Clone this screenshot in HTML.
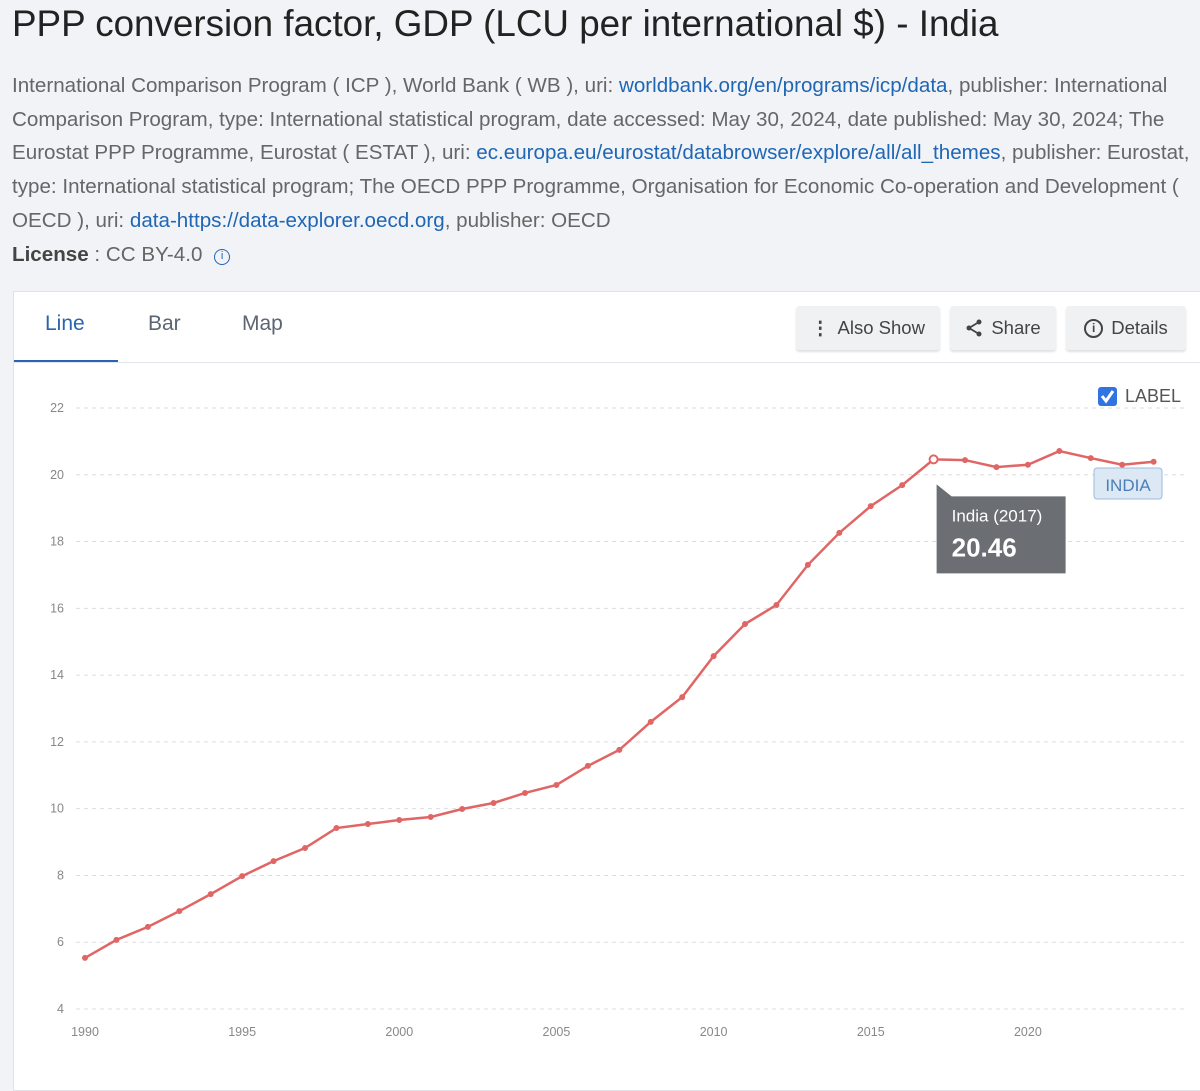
<!DOCTYPE html>
<html><head><meta charset="utf-8"><style>
*{box-sizing:border-box;margin:0;padding:0}
body{width:1200px;height:1079px;background:#f1f3f6;font-family:"Liberation Sans",sans-serif;position:relative;overflow:hidden;color:#555}
.abs{position:absolute}
h1{position:absolute;left:12px;top:3px;font-size:36.8px;font-weight:normal;color:#222;white-space:nowrap}
.meta{position:absolute;left:12px;top:69px;width:1188px;font-size:20.6px;line-height:33.7px;color:#666}
.meta a{color:#1f66b5;text-decoration:none}
.card{position:absolute;left:13px;top:291px;width:1200px;height:800px;background:#fff;border:1px solid #dfe2e6}
.tab{position:absolute;top:20px;font-size:21px;color:#5b6573}
.btn{position:absolute;top:14px;height:44px;background:#f0f1f3;border-radius:3px;box-shadow:0 2px 2px rgba(0,0,0,.12);font-size:18.5px;color:#444;display:flex;align-items:center;justify-content:center;gap:8px}
</style></head><body>
<h1>PPP conversion factor, GDP (LCU per international $) - India</h1>
<div class="meta">International Comparison Program ( ICP ), World Bank ( WB ), uri: <a>worldbank.org/en/programs/icp/data</a>, publisher: International Comparison Program, type: International statistical program, date accessed: May 30, 2024, date published: May 30, 2024; The Eurostat PPP Programme, Eurostat ( ESTAT ), uri: <a>ec.europa.eu/eurostat/databrowser/explore/all/all_themes</a>, publisher: Eurostat, type: International statistical program; The OECD PPP Programme, Organisation for Economic Co-operation and Development ( OECD ), uri: <a>data-https://data-explorer.oecd.org</a>, publisher: OECD<br><b style="color:#444">License</b> : CC BY-4.0 <span style="display:inline-block;width:16px;height:16px;border:1.5px solid #1f66b5;border-radius:50%;color:#1f66b5;font-size:11px;line-height:13px;text-align:center;margin-left:6px;vertical-align:2px">i</span></div>
<div class="card">
 <div class="tab" style="left:31px;color:#2a64b0">Line</div>
 <div class="abs" style="left:0;top:68px;width:104px;height:3px;background:#2a64b0"></div>
 <div class="tab" style="left:134px">Bar</div>
 <div class="tab" style="left:228px">Map</div>
 <div class="abs" style="left:0;top:70px;width:1200px;height:1px;background:#e3e6ea"></div>
 <div class="btn" style="left:782px;width:144px"><span style="font-weight:bold">⋮</span>Also Show</div>
 <div class="btn" style="left:936px;width:106px"><svg width="18" height="18" viewBox="0 0 18 18"><circle cx="14" cy="3" r="2.5" fill="#444"/><circle cx="4" cy="9" r="2.5" fill="#444"/><circle cx="14" cy="15" r="2.5" fill="#444"/><path d="M14 3L4 9L14 15" stroke="#444" stroke-width="1.8" fill="none"/></svg>Share</div>
 <div class="btn" style="left:1052px;width:120px"><span style="display:inline-block;width:19px;height:19px;border:2px solid #444;border-radius:50%;font-size:12px;line-height:15px;text-align:center;font-weight:bold">i</span>Details</div>
</div>
<svg class="abs" style="left:0;top:0" width="1200" height="1079" id="chart"></svg>
<script>
const years=[1990,1991,1992,1993,1994,1995,1996,1997,1998,1999,2000,2001,2002,2003,2004,2005,2006,2007,2008,2009,2010,2011,2012,2013,2014,2015,2016,2017,2018,2019,2020,2021,2022,2023,2024];
const values=[5.53,6.07,6.46,6.93,7.44,7.98,8.43,8.82,9.42,9.54,9.66,9.75,9.99,10.17,10.47,10.71,11.28,11.76,12.6,13.34,14.57,15.53,16.1,17.3,18.26,19.06,19.69,20.46,20.44,20.23,20.3,20.71,20.5,20.3,20.39];
const yTicks=[4,6,8,10,12,14,16,18,20,22];
const xTicks=[1990,1995,2000,2005,2010,2015,2020];
const NS="http://www.w3.org/2000/svg";
const svg=document.getElementById('chart');
const X=y=>85+(y-1990)*31.43;
const Y=v=>1009-(v-4)*33.39;
function mk(t,a){const e=document.createElementNS(NS,t);for(const k in a)e.setAttribute(k,a[k]);svg.appendChild(e);return e;}
yTicks.forEach(t=>{
 const l=mk('line',{x1:76,x2:1188,y1:Y(t),y2:Y(t),stroke:'#ddd','stroke-dasharray':'4,4'});
 
 
 const tx=mk('text',{x:64,y:Y(t)+4,'text-anchor':'end','font-size':12.5,fill:'#888','font-family':'Liberation Sans'});
 tx.textContent=t;
 
 
});
xTicks.forEach(t=>{
 const tx=mk('text',{x:X(t),y:1036,'text-anchor':'middle','font-size':12.5,fill:'#888','font-family':'Liberation Sans'});
 tx.textContent=t;
 
 
});
const p=mk('polyline',{points:years.map((y,i)=>X(y)+','+Y(values[i])).join(' '),fill:'none',stroke:'#e06666','stroke-width':2.5});


years.forEach((y,i)=>{
 const hl=y===2017;
 const c=mk('circle',{cx:X(y),cy:Y(values[i]),r:hl?4:2.5,fill:hl?'#fff':'#e06666',stroke:'#e06666','stroke-width':hl?2:1});
 
 
});
const hx=X(2017),hy=Y(values[27]);
const tip=mk('path',{d:`M${hx+3} ${hy+25} L${hx+18} ${hy+37} L${hx+132} ${hy+37} L${hx+132} ${hy+114} L${hx+3} ${hy+114} Z`,fill:'#6b6f73'});


const t1=mk('text',{x:hx+18,y:hy+62,fill:'#fff','font-size':17,'font-family':'Liberation Sans'});t1.textContent='India (2017)';


const t2=mk('text',{x:hx+18,y:hy+97,fill:'#fff','font-size':26,'font-weight':'bold','font-family':'Liberation Sans'});t2.textContent=values[27].toFixed(2);


const lb=mk('rect',{x:1094,y:468,width:68,height:31,rx:3,fill:'#dce8f4',stroke:'#9dbbdc'});


const lt=mk('text',{x:1128,y:491,'text-anchor':'middle',fill:'#4a7fb8','font-size':17,'font-family':'Liberation Sans'});lt.textContent='INDIA';


const cb=mk('rect',{x:1098,y:387,width:19,height:19,rx:3,fill:'#2f74e0'});


mk('path',{d:'M1102 396 L1106 401 L1113 391',stroke:'#fff','stroke-width':3,fill:'none'});
const ct=mk('text',{x:1125,y:402,fill:'#555','font-size':18,'font-family':'Liberation Sans'});ct.textContent='LABEL';


</script>
</body></html>
